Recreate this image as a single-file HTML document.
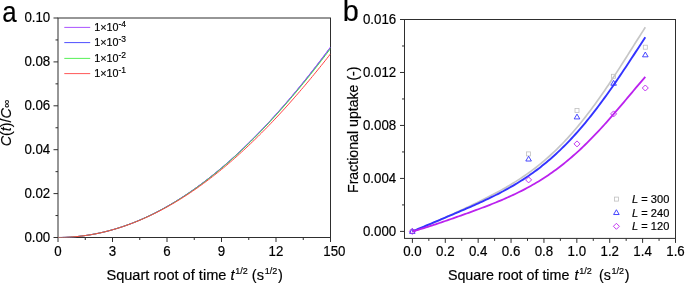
<!DOCTYPE html>
<html><head><meta charset="utf-8"><title>Figure</title>
<style>
html,body{margin:0;padding:0;background:#fff;}
svg{display:block;}
text{font-family:"Liberation Sans", Arial, sans-serif;fill:#000;stroke:#000;stroke-width:0.18px;}
</style></head><body>
<svg width="685" height="284" viewBox="0 0 685 284">
<rect width="685" height="284" fill="#fff"/>
<g stroke="#2e2e2e" stroke-width="1" fill="none">
<rect x="58.0" y="18.0" width="272.5" height="219.5"/>
<line x1="53.5" y1="237.50" x2="58.0" y2="237.50"/>
<line x1="55.5" y1="215.55" x2="58.0" y2="215.55"/>
<line x1="53.5" y1="193.60" x2="58.0" y2="193.60"/>
<line x1="55.5" y1="171.65" x2="58.0" y2="171.65"/>
<line x1="53.5" y1="149.70" x2="58.0" y2="149.70"/>
<line x1="55.5" y1="127.75" x2="58.0" y2="127.75"/>
<line x1="53.5" y1="105.80" x2="58.0" y2="105.80"/>
<line x1="55.5" y1="83.85" x2="58.0" y2="83.85"/>
<line x1="53.5" y1="61.90" x2="58.0" y2="61.90"/>
<line x1="55.5" y1="39.95" x2="58.0" y2="39.95"/>
<line x1="53.5" y1="18.00" x2="58.0" y2="18.00"/>
<line x1="58.00" y1="237.5" x2="58.00" y2="242.0"/>
<line x1="85.25" y1="237.5" x2="85.25" y2="240.0"/>
<line x1="112.50" y1="237.5" x2="112.50" y2="242.0"/>
<line x1="139.75" y1="237.5" x2="139.75" y2="240.0"/>
<line x1="167.00" y1="237.5" x2="167.00" y2="242.0"/>
<line x1="194.25" y1="237.5" x2="194.25" y2="240.0"/>
<line x1="221.50" y1="237.5" x2="221.50" y2="242.0"/>
<line x1="248.75" y1="237.5" x2="248.75" y2="240.0"/>
<line x1="276.00" y1="237.5" x2="276.00" y2="242.0"/>
<line x1="303.25" y1="237.5" x2="303.25" y2="240.0"/>
<line x1="330.50" y1="237.5" x2="330.50" y2="242.0"/>
</g>
<clipPath id="ca"><rect x="58.0" y="18.0" width="272.5" height="219.5"/></clipPath>
<g clip-path="url(#ca)" fill="none" stroke-width="1">
<polyline points="58.00,237.50 59.82,237.49 61.63,237.47 63.45,237.42 65.27,237.36 67.08,237.28 68.90,237.19 70.72,237.08 72.53,236.95 74.35,236.80 76.17,236.64 77.98,236.46 79.80,236.26 81.62,236.04 83.43,235.81 85.25,235.56 87.07,235.29 88.88,235.01 90.70,234.71 92.52,234.39 94.33,234.05 96.15,233.70 97.97,233.33 99.78,232.94 101.60,232.54 103.42,232.12 105.23,231.68 107.05,231.22 108.87,230.75 110.68,230.26 112.50,229.75 114.32,229.22 116.13,228.68 117.95,228.12 119.77,227.55 121.58,226.95 123.40,226.34 125.22,225.71 127.03,225.07 128.85,224.40 130.67,223.72 132.48,223.03 134.30,222.31 136.12,221.58 137.93,220.83 139.75,220.07 141.57,219.28 143.38,218.48 145.20,217.66 147.02,216.83 148.83,215.98 150.65,215.11 152.47,214.22 154.28,213.32 156.10,212.40 157.92,211.46 159.73,210.51 161.55,209.54 163.37,208.55 165.18,207.54 167.00,206.52 168.82,205.48 170.63,204.42 172.45,203.35 174.27,202.26 176.08,201.15 177.90,200.02 179.72,198.88 181.53,197.72 183.35,196.55 185.17,195.35 186.98,194.14 188.80,192.91 190.62,191.67 192.43,190.41 194.25,189.13 196.07,187.84 197.88,186.52 199.70,185.20 201.52,183.85 203.33,182.49 205.15,181.11 206.97,179.71 208.78,178.30 210.60,176.87 212.42,175.42 214.23,173.96 216.05,172.48 217.87,170.98 219.68,169.47 221.50,167.94 223.32,166.39 225.13,164.83 226.95,163.25 228.77,161.66 230.58,160.04 232.40,158.41 234.22,156.77 236.03,155.11 237.85,153.43 239.67,151.74 241.48,150.02 243.30,148.30 245.12,146.55 246.93,144.80 248.75,143.02 250.57,141.23 252.38,139.42 254.20,137.60 256.02,135.76 257.83,133.90 259.65,132.03 261.47,130.14 263.28,128.24 265.10,126.32 266.92,124.39 268.73,122.44 270.55,120.47 272.37,118.49 274.18,116.50 276.00,114.48 277.82,112.46 279.63,110.41 281.45,108.36 283.27,106.28 285.08,104.20 286.90,102.09 288.72,99.98 290.53,97.84 292.35,95.70 294.17,93.54 295.98,91.36 297.80,89.17 299.62,86.96 301.43,84.74 303.25,82.51 305.07,80.26 306.88,78.00 308.70,75.72 310.52,73.43 312.33,71.13 314.15,68.81 315.97,66.48 317.78,64.13 319.60,61.78 321.42,59.40 323.23,57.02 325.05,54.62 326.87,52.21 328.68,49.79 330.50,47.35" stroke="#3a3aff"/>
<polyline points="58.00,237.50 59.82,237.49 61.63,237.47 63.45,237.42 65.27,237.36 67.08,237.28 68.90,237.19 70.72,237.08 72.53,236.95 74.35,236.80 76.17,236.64 77.98,236.46 79.80,236.26 81.62,236.04 83.43,235.81 85.25,235.56 87.07,235.29 88.88,235.01 90.70,234.71 92.52,234.39 94.33,234.05 96.15,233.70 97.97,233.33 99.78,232.94 101.60,232.54 103.42,232.12 105.23,231.68 107.05,231.22 108.87,230.75 110.68,230.25 112.50,229.75 114.32,229.22 116.13,228.68 117.95,228.12 119.77,227.54 121.58,226.95 123.40,226.34 125.22,225.71 127.03,225.06 128.85,224.40 130.67,223.72 132.48,223.02 134.30,222.30 136.12,221.57 137.93,220.82 139.75,220.06 141.57,219.27 143.38,218.47 145.20,217.65 147.02,216.82 148.83,215.97 150.65,215.10 152.47,214.21 154.28,213.31 156.10,212.38 157.92,211.45 159.73,210.49 161.55,209.52 163.37,208.53 165.18,207.52 167.00,206.50 168.82,205.46 170.63,204.40 172.45,203.32 174.27,202.23 176.08,201.12 177.90,200.00 179.72,198.85 181.53,197.69 183.35,196.51 185.17,195.32 186.98,194.11 188.80,192.88 190.62,191.63 192.43,190.37 194.25,189.09 196.07,187.80 197.88,186.48 199.70,185.15 201.52,183.80 203.33,182.44 205.15,181.06 206.97,179.66 208.78,178.25 210.60,176.82 212.42,175.37 214.23,173.90 216.05,172.42 217.87,170.92 219.68,169.41 221.50,167.87 223.32,166.33 225.13,164.76 226.95,163.18 228.77,161.58 230.58,159.97 232.40,158.34 234.22,156.69 236.03,155.02 237.85,153.34 239.67,151.65 241.48,149.93 243.30,148.20 245.12,146.46 246.93,144.70 248.75,142.92 250.57,141.12 252.38,139.31 254.20,137.49 256.02,135.64 257.83,133.78 259.65,131.91 261.47,130.02 263.28,128.11 265.10,126.19 266.92,124.25 268.73,122.30 270.55,120.33 272.37,118.35 274.18,116.35 276.00,114.33 277.82,112.30 279.63,110.26 281.45,108.20 283.27,106.12 285.08,104.03 286.90,101.92 288.72,99.80 290.53,97.66 292.35,95.51 294.17,93.35 295.98,91.17 297.80,88.97 299.62,86.76 301.43,84.54 303.25,82.30 305.07,80.05 306.88,77.78 308.70,75.50 310.52,73.20 312.33,70.89 314.15,68.57 315.97,66.24 317.78,63.89 319.60,61.52 321.42,59.15 323.23,56.76 325.05,54.35 326.87,51.94 328.68,49.51 330.50,47.07" stroke="#a040ff"/>
<polyline points="58.00,237.50 59.82,237.49 61.63,237.47 63.45,237.42 65.27,237.36 67.08,237.28 68.90,237.19 70.72,237.08 72.53,236.95 74.35,236.80 76.17,236.64 77.98,236.46 79.80,236.26 81.62,236.05 83.43,235.81 85.25,235.56 87.07,235.30 88.88,235.01 90.70,234.71 92.52,234.39 94.33,234.06 96.15,233.71 97.97,233.34 99.78,232.95 101.60,232.55 103.42,232.12 105.23,231.69 107.05,231.23 108.87,230.76 110.68,230.27 112.50,229.76 114.32,229.24 116.13,228.70 117.95,228.14 119.77,227.56 121.58,226.97 123.40,226.36 125.22,225.73 127.03,225.09 128.85,224.43 130.67,223.75 132.48,223.06 134.30,222.34 136.12,221.61 137.93,220.87 139.75,220.10 141.57,219.32 143.38,218.53 145.20,217.71 147.02,216.88 148.83,216.03 150.65,215.16 152.47,214.28 154.28,213.38 156.10,212.47 157.92,211.53 159.73,210.58 161.55,209.61 163.37,208.63 165.18,207.63 167.00,206.61 168.82,205.57 170.63,204.52 172.45,203.45 174.27,202.36 176.08,201.26 177.90,200.14 179.72,199.00 181.53,197.85 183.35,196.68 185.17,195.49 186.98,194.29 188.80,193.06 190.62,191.83 192.43,190.57 194.25,189.30 196.07,188.01 197.88,186.71 199.70,185.38 201.52,184.05 203.33,182.69 205.15,181.32 206.97,179.93 208.78,178.52 210.60,177.10 212.42,175.67 214.23,174.21 216.05,172.74 217.87,171.25 219.68,169.75 221.50,168.23 223.32,166.69 225.13,165.14 226.95,163.57 228.77,161.98 230.58,160.38 232.40,158.76 234.22,157.12 236.03,155.47 237.85,153.81 239.67,152.12 241.48,150.42 243.30,148.71 245.12,146.98 246.93,145.23 248.75,143.47 250.57,141.69 252.38,139.89 254.20,138.08 256.02,136.25 257.83,134.41 259.65,132.55 261.47,130.68 263.28,128.79 265.10,126.89 266.92,124.97 268.73,123.03 270.55,121.08 272.37,119.12 274.18,117.14 276.00,115.14 277.82,113.13 279.63,111.10 281.45,109.06 283.27,107.00 285.08,104.93 286.90,102.85 288.72,100.75 290.53,98.63 292.35,96.50 294.17,94.36 295.98,92.20 297.80,90.03 299.62,87.84 301.43,85.64 303.25,83.43 305.07,81.20 306.88,78.96 308.70,76.70 310.52,74.43 312.33,72.15 314.15,69.85 315.97,67.54 317.78,65.22 319.60,62.88 321.42,60.53 323.23,58.17 325.05,55.79 326.87,53.40 328.68,51.00 330.50,48.59" stroke="#44e044"/>
<polyline points="58.00,237.50 59.82,237.49 61.63,237.47 63.45,237.42 65.27,237.36 67.08,237.28 68.90,237.19 70.72,237.08 72.53,236.95 74.35,236.80 76.17,236.64 77.98,236.46 79.80,236.26 81.62,236.05 83.43,235.82 85.25,235.57 87.07,235.31 88.88,235.02 90.70,234.72 92.52,234.41 94.33,234.07 96.15,233.72 97.97,233.36 99.78,232.97 101.60,232.57 103.42,232.15 105.23,231.72 107.05,231.27 108.87,230.80 110.68,230.31 112.50,229.81 114.32,229.29 116.13,228.76 117.95,228.20 119.77,227.64 121.58,227.05 123.40,226.45 125.22,225.83 127.03,225.19 128.85,224.54 130.67,223.87 132.48,223.18 134.30,222.48 136.12,221.76 137.93,221.02 139.75,220.27 141.57,219.50 143.38,218.71 145.20,217.91 147.02,217.09 148.83,216.25 150.65,215.40 152.47,214.53 154.28,213.65 156.10,212.75 157.92,211.83 159.73,210.89 161.55,209.94 163.37,208.97 165.18,207.99 167.00,206.99 168.82,205.97 170.63,204.94 172.45,203.89 174.27,202.82 176.08,201.74 177.90,200.64 179.72,199.53 181.53,198.40 183.35,197.25 185.17,196.08 186.98,194.91 188.80,193.71 190.62,192.50 192.43,191.27 194.25,190.03 196.07,188.77 197.88,187.49 199.70,186.20 201.52,184.89 203.33,183.57 205.15,182.23 206.97,180.87 208.78,179.50 210.60,178.11 212.42,176.71 214.23,175.29 216.05,173.86 217.87,172.40 219.68,170.94 221.50,169.46 223.32,167.96 225.13,166.45 226.95,164.92 228.77,163.38 230.58,161.82 232.40,160.24 234.22,158.65 236.03,157.05 237.85,155.43 239.67,153.79 241.48,152.14 243.30,150.47 245.12,148.79 246.93,147.10 248.75,145.39 250.57,143.66 252.38,141.92 254.20,140.16 256.02,138.39 257.83,136.61 259.65,134.81 261.47,132.99 263.28,131.17 265.10,129.32 266.92,127.46 268.73,125.59 270.55,123.71 272.37,121.80 274.18,119.89 276.00,117.96 277.82,116.02 279.63,114.06 281.45,112.09 283.27,110.10 285.08,108.11 286.90,106.09 288.72,104.07 290.53,102.03 292.35,99.97 294.17,97.91 295.98,95.83 297.80,93.74 299.62,91.63 301.43,89.51 303.25,87.38 305.07,85.24 306.88,83.08 308.70,80.91 310.52,78.73 312.33,76.53 314.15,74.32 315.97,72.10 317.78,69.87 319.60,67.63 321.42,65.37 323.23,63.11 325.05,60.83 326.87,58.54 328.68,56.23 330.50,53.92" stroke="#ff4444"/>
</g>
<text transform="translate(50.25,241.60) scale(1,1.08)" font-size="13.3px" text-anchor="end">0.00</text>
<text transform="translate(50.25,197.70) scale(1,1.08)" font-size="13.3px" text-anchor="end">0.02</text>
<text transform="translate(50.25,153.80) scale(1,1.08)" font-size="13.3px" text-anchor="end">0.04</text>
<text transform="translate(50.25,109.90) scale(1,1.08)" font-size="13.3px" text-anchor="end">0.06</text>
<text transform="translate(50.25,66.00) scale(1,1.08)" font-size="13.3px" text-anchor="end">0.08</text>
<text transform="translate(50.25,22.10) scale(1,1.08)" font-size="13.3px" text-anchor="end">0.10</text>
<text transform="translate(58.00,255.50) scale(1,1.08)" font-size="13.3px" text-anchor="middle">0</text>
<text transform="translate(112.50,255.50) scale(1,1.08)" font-size="13.3px" text-anchor="middle">3</text>
<text transform="translate(167.00,255.50) scale(1,1.08)" font-size="13.3px" text-anchor="middle">6</text>
<text transform="translate(221.50,255.50) scale(1,1.08)" font-size="13.3px" text-anchor="middle">9</text>
<text transform="translate(276.00,255.50) scale(1,1.08)" font-size="13.3px" text-anchor="middle">12</text>
<text transform="translate(323.30,255.50) scale(1,1.08)" font-size="13.3px" text-anchor="start">150</text>
<line x1="64.3" y1="27.40" x2="90.2" y2="27.40" stroke="#a040ff" stroke-width="0.9"/>
<text transform="translate(94.20,31.25) scale(1,1.08)" font-size="10.8px" text-anchor="start">1×10<tspan font-size="8.5px" dy="-4.2">-4</tspan></text>
<line x1="64.3" y1="42.60" x2="90.2" y2="42.60" stroke="#3a3aff" stroke-width="0.9"/>
<text transform="translate(94.20,46.45) scale(1,1.08)" font-size="10.8px" text-anchor="start">1×10<tspan font-size="8.5px" dy="-4.2">-3</tspan></text>
<line x1="64.3" y1="58.40" x2="90.2" y2="58.40" stroke="#44ee44" stroke-width="0.9"/>
<text transform="translate(94.20,62.25) scale(1,1.08)" font-size="10.8px" text-anchor="start">1×10<tspan font-size="8.5px" dy="-4.2">-2</tspan></text>
<line x1="64.3" y1="73.60" x2="90.2" y2="73.60" stroke="#ff4444" stroke-width="0.9"/>
<text transform="translate(94.20,77.45) scale(1,1.08)" font-size="10.8px" text-anchor="start">1×10<tspan font-size="8.5px" dy="-4.2">-1</tspan></text>
<text transform="translate(2.30,22.00) scale(0.94,1.065)" font-size="27.5px" text-anchor="start" stroke="#000" stroke-width="0.3">a</text>
<g transform="translate(11.2,146.3) rotate(-90)"><text font-size="14.3px"><tspan font-style="italic">C</tspan>(<tspan font-style="italic">t</tspan>)/<tspan font-style="italic">C</tspan></text><text transform="translate(38.5,-1.6) scale(1,0.92)" font-size="11.8px" stroke="#000" stroke-width="0.35">∞</text></g>
<text transform="translate(106.40,279.70) scale(1,1.06)" font-size="14.6px" text-anchor="start">Squart root of time <tspan font-style="italic">t</tspan><tspan font-size="9px" dy="-5.5" dx="0.8">1/2</tspan><tspan dy="5.5"> (s</tspan><tspan font-size="9px" dy="-5.5" dx="0.8">1/2</tspan><tspan dy="5.5" dx="0.7">)</tspan></text>
<rect x="410.30" y="229.40" width="4.0" height="4.0" fill="none" stroke="#c0c0c0" stroke-width="0.8"/>
<rect x="526.60" y="151.90" width="4.0" height="4.0" fill="none" stroke="#c0c0c0" stroke-width="0.8"/>
<rect x="575.00" y="108.40" width="4.0" height="4.0" fill="none" stroke="#c0c0c0" stroke-width="0.8"/>
<rect x="611.60" y="74.30" width="4.0" height="4.0" fill="none" stroke="#c0c0c0" stroke-width="0.8"/>
<rect x="643.30" y="45.20" width="4.0" height="4.0" fill="none" stroke="#c0c0c0" stroke-width="0.8"/>
<polyline points="412.30,231.40 414.24,230.70 416.18,229.97 418.12,229.23 420.07,228.46 422.01,227.68 423.95,226.89 425.89,226.08 427.83,225.26 429.78,224.43 431.72,223.59 433.66,222.74 435.60,221.89 437.54,221.02 439.48,220.15 441.43,219.28 443.37,218.40 445.31,217.51 447.25,216.63 449.19,215.73 451.13,214.84 453.07,213.94 455.02,213.04 456.96,212.14 458.90,211.23 460.84,210.32 462.78,209.41 464.73,208.49 466.67,207.57 468.61,206.65 470.55,205.72 472.49,204.79 474.43,203.85 476.38,202.91 478.32,201.96 480.26,201.01 482.20,200.05 484.14,199.08 486.08,198.10 488.03,197.11 489.97,196.12 491.91,195.11 493.85,194.09 495.79,193.06 497.73,192.01 499.68,190.96 501.62,189.88 503.56,188.79 505.50,187.69 507.44,186.57 509.38,185.42 511.32,184.26 513.27,183.08 515.21,181.88 517.15,180.65 519.09,179.40 521.03,178.13 522.98,176.83 524.92,175.51 526.86,174.15 528.80,172.77 530.74,171.37 532.68,169.93 534.62,168.46 536.57,166.96 538.51,165.42 540.45,163.86 542.39,162.25 544.33,160.62 546.27,158.95 548.22,157.24 550.16,155.50 552.10,153.72 554.04,151.90 555.98,150.04 557.92,148.14 559.87,146.21 561.81,144.23 563.75,142.22 565.69,140.16 567.63,138.06 569.58,135.93 571.52,133.75 573.46,131.53 575.40,129.27 577.34,126.97 579.28,124.62 581.23,122.24 583.17,119.82 585.11,117.36 587.05,114.85 588.99,112.31 590.93,109.73 592.88,107.11 594.82,104.46 596.76,101.77 598.70,99.05 600.64,96.29 602.58,93.49 604.52,90.67 606.47,87.82 608.41,84.93 610.35,82.02 612.29,79.08 614.23,76.12 616.17,73.14 618.12,70.14 620.06,67.12 622.00,64.08 623.94,61.03 625.88,57.96 627.83,54.89 629.77,51.81 631.71,48.73 633.65,45.65 635.59,42.57 637.53,39.50 639.48,36.43 641.42,33.38 643.36,30.35 645.30,27.33" fill="none" stroke="#c6c6c6" stroke-width="1.7"/>
<path d="M412.30,228.52 L415.10,233.32 L409.50,233.32 Z" fill="none" stroke="#3333ff" stroke-width="0.9" stroke-linejoin="miter"/>
<path d="M528.60,156.22 L531.40,161.02 L525.80,161.02 Z" fill="none" stroke="#3333ff" stroke-width="0.9" stroke-linejoin="miter"/>
<path d="M577.00,114.12 L579.80,118.92 L574.20,118.92 Z" fill="none" stroke="#3333ff" stroke-width="0.9" stroke-linejoin="miter"/>
<path d="M613.60,80.42 L616.40,85.22 L610.80,85.22 Z" fill="none" stroke="#3333ff" stroke-width="0.9" stroke-linejoin="miter"/>
<path d="M645.30,52.02 L648.10,56.82 L642.50,56.82 Z" fill="none" stroke="#3333ff" stroke-width="0.9" stroke-linejoin="miter"/>
<polyline points="412.30,231.40 414.24,230.60 416.18,229.80 418.12,229.00 420.07,228.19 422.01,227.38 423.95,226.57 425.89,225.75 427.83,224.94 429.78,224.12 431.72,223.30 433.66,222.48 435.60,221.66 437.54,220.84 439.48,220.02 441.43,219.20 443.37,218.38 445.31,217.56 447.25,216.74 449.19,215.91 451.13,215.09 453.07,214.27 455.02,213.44 456.96,212.62 458.90,211.79 460.84,210.96 462.78,210.13 464.73,209.29 466.67,208.45 468.61,207.61 470.55,206.76 472.49,205.90 474.43,205.04 476.38,204.18 478.32,203.31 480.26,202.42 482.20,201.54 484.14,200.64 486.08,199.73 488.03,198.81 489.97,197.88 491.91,196.94 493.85,195.98 495.79,195.02 497.73,194.03 499.68,193.03 501.62,192.02 503.56,190.99 505.50,189.94 507.44,188.87 509.38,187.79 511.32,186.68 513.27,185.56 515.21,184.41 517.15,183.24 519.09,182.04 521.03,180.82 522.98,179.58 524.92,178.31 526.86,177.02 528.80,175.69 530.74,174.34 532.68,172.96 534.62,171.56 536.57,170.12 538.51,168.65 540.45,167.15 542.39,165.62 544.33,164.05 546.27,162.46 548.22,160.83 550.16,159.16 552.10,157.46 554.04,155.73 555.98,153.96 557.92,152.16 559.87,150.32 561.81,148.44 563.75,146.52 565.69,144.57 567.63,142.59 569.58,140.56 571.52,138.50 573.46,136.40 575.40,134.26 577.34,132.09 579.28,129.88 581.23,127.63 583.17,125.34 585.11,123.02 587.05,120.66 588.99,118.27 590.93,115.84 592.88,113.38 594.82,110.88 596.76,108.35 598.70,105.78 600.64,103.18 602.58,100.55 604.52,97.89 606.47,95.20 608.41,92.48 610.35,89.74 612.29,86.96 614.23,84.16 616.17,81.34 618.12,78.50 620.06,75.63 622.00,72.74 623.94,69.84 625.88,66.92 627.83,63.98 629.77,61.03 631.71,58.08 633.65,55.11 635.59,52.14 637.53,49.16 639.48,46.18 641.42,43.20 643.36,40.22 645.30,37.25" fill="none" stroke="#3333ff" stroke-width="1.9"/>
<path d="M412.30,228.40 L415.30,231.40 L412.30,234.40 L409.30,231.40 Z" fill="none" stroke="#bb22ee" stroke-width="0.9"/>
<path d="M528.60,176.90 L531.60,179.90 L528.60,182.90 L525.60,179.90 Z" fill="none" stroke="#bb22ee" stroke-width="0.9"/>
<path d="M577.00,140.90 L580.00,143.90 L577.00,146.90 L574.00,143.90 Z" fill="none" stroke="#bb22ee" stroke-width="0.9"/>
<path d="M613.60,110.90 L616.60,113.90 L613.60,116.90 L610.60,113.90 Z" fill="none" stroke="#bb22ee" stroke-width="0.9"/>
<path d="M645.30,85.00 L648.30,88.00 L645.30,91.00 L642.30,88.00 Z" fill="none" stroke="#bb22ee" stroke-width="0.9"/>
<polyline points="412.30,231.40 414.24,230.88 416.18,230.35 418.12,229.80 420.07,229.23 422.01,228.65 423.95,228.06 425.89,227.46 427.83,226.85 429.78,226.23 431.72,225.60 433.66,224.96 435.60,224.32 437.54,223.67 439.48,223.01 441.43,222.35 443.37,221.69 445.31,221.02 447.25,220.35 449.19,219.68 451.13,219.00 453.07,218.32 455.02,217.64 456.96,216.96 458.90,216.27 460.84,215.58 462.78,214.89 464.73,214.19 466.67,213.49 468.61,212.79 470.55,212.09 472.49,211.38 474.43,210.67 476.38,209.95 478.32,209.23 480.26,208.51 482.20,207.78 484.14,207.04 486.08,206.30 488.03,205.55 489.97,204.79 491.91,204.02 493.85,203.25 495.79,202.46 497.73,201.67 499.68,200.86 501.62,200.05 503.56,199.22 505.50,198.38 507.44,197.52 509.38,196.65 511.32,195.77 513.27,194.87 515.21,193.95 517.15,193.02 519.09,192.06 521.03,191.09 522.98,190.10 524.92,189.09 526.86,188.06 528.80,187.01 530.74,185.94 532.68,184.84 534.62,183.72 536.57,182.57 538.51,181.40 540.45,180.21 542.39,178.99 544.33,177.74 546.27,176.47 548.22,175.16 550.16,173.83 552.10,172.47 554.04,171.09 555.98,169.67 557.92,168.22 559.87,166.75 561.81,165.24 563.75,163.70 565.69,162.13 567.63,160.54 569.58,158.91 571.52,157.25 573.46,155.55 575.40,153.83 577.34,152.08 579.28,150.29 581.23,148.48 583.17,146.63 585.11,144.76 587.05,142.85 588.99,140.92 590.93,138.96 592.88,136.97 594.82,134.95 596.76,132.91 598.70,130.84 600.64,128.74 602.58,126.62 604.52,124.48 606.47,122.32 608.41,120.13 610.35,117.93 612.29,115.70 614.23,113.46 616.17,111.21 618.12,108.94 620.06,106.66 622.00,104.36 623.94,102.06 625.88,99.76 627.83,97.44 629.77,95.13 631.71,92.81 633.65,90.50 635.59,88.20 637.53,85.89 639.48,83.60 641.42,81.33 643.36,79.06 645.30,76.82" fill="none" stroke="#bb22ee" stroke-width="1.8"/>
<g stroke="#2e2e2e" stroke-width="1" fill="none">
<rect x="404.5" y="19.5" width="271.0" height="218.9"/>
<line x1="400.0" y1="231.40" x2="404.5" y2="231.40"/>
<line x1="402.0" y1="204.91" x2="404.5" y2="204.91"/>
<line x1="400.0" y1="178.43" x2="404.5" y2="178.43"/>
<line x1="402.0" y1="151.94" x2="404.5" y2="151.94"/>
<line x1="400.0" y1="125.45" x2="404.5" y2="125.45"/>
<line x1="402.0" y1="98.96" x2="404.5" y2="98.96"/>
<line x1="400.0" y1="72.47" x2="404.5" y2="72.47"/>
<line x1="402.0" y1="45.99" x2="404.5" y2="45.99"/>
<line x1="400.0" y1="19.50" x2="404.5" y2="19.50"/>
<line x1="412.40" y1="238.4" x2="412.40" y2="242.9"/>
<line x1="428.84" y1="238.4" x2="428.84" y2="240.9"/>
<line x1="445.29" y1="238.4" x2="445.29" y2="242.9"/>
<line x1="461.73" y1="238.4" x2="461.73" y2="240.9"/>
<line x1="478.17" y1="238.4" x2="478.17" y2="242.9"/>
<line x1="494.62" y1="238.4" x2="494.62" y2="240.9"/>
<line x1="511.06" y1="238.4" x2="511.06" y2="242.9"/>
<line x1="527.51" y1="238.4" x2="527.51" y2="240.9"/>
<line x1="543.95" y1="238.4" x2="543.95" y2="242.9"/>
<line x1="560.39" y1="238.4" x2="560.39" y2="240.9"/>
<line x1="576.84" y1="238.4" x2="576.84" y2="242.9"/>
<line x1="593.28" y1="238.4" x2="593.28" y2="240.9"/>
<line x1="609.73" y1="238.4" x2="609.73" y2="242.9"/>
<line x1="626.17" y1="238.4" x2="626.17" y2="240.9"/>
<line x1="642.61" y1="238.4" x2="642.61" y2="242.9"/>
<line x1="659.06" y1="238.4" x2="659.06" y2="240.9"/>
<line x1="675.50" y1="238.4" x2="675.50" y2="242.9"/>
</g>
<text transform="translate(396.20,235.90) scale(1,1.075)" font-size="13.3px" text-anchor="end">0.000</text>
<text transform="translate(396.20,182.93) scale(1,1.075)" font-size="13.3px" text-anchor="end">0.004</text>
<text transform="translate(396.20,129.95) scale(1,1.075)" font-size="13.3px" text-anchor="end">0.008</text>
<text transform="translate(396.20,76.97) scale(1,1.075)" font-size="13.3px" text-anchor="end">0.012</text>
<text transform="translate(396.20,24.00) scale(1,1.075)" font-size="13.3px" text-anchor="end">0.016</text>
<text transform="translate(412.40,255.60) scale(1,1.075)" font-size="13.3px" text-anchor="middle">0.0</text>
<text transform="translate(445.29,255.60) scale(1,1.075)" font-size="13.3px" text-anchor="middle">0.2</text>
<text transform="translate(478.17,255.60) scale(1,1.075)" font-size="13.3px" text-anchor="middle">0.4</text>
<text transform="translate(511.06,255.60) scale(1,1.075)" font-size="13.3px" text-anchor="middle">0.6</text>
<text transform="translate(543.95,255.60) scale(1,1.075)" font-size="13.3px" text-anchor="middle">0.8</text>
<text transform="translate(576.84,255.60) scale(1,1.075)" font-size="13.3px" text-anchor="middle">1.0</text>
<text transform="translate(609.73,255.60) scale(1,1.075)" font-size="13.3px" text-anchor="middle">1.2</text>
<text transform="translate(642.61,255.60) scale(1,1.075)" font-size="13.3px" text-anchor="middle">1.4</text>
<text transform="translate(675.50,255.60) scale(1,1.075)" font-size="13.3px" text-anchor="middle">1.6</text>
<rect x="614.40" y="197.10" width="4.0" height="4.0" fill="none" stroke="#c0c0c0" stroke-width="0.8"/>
<path d="M616.40,209.72 L619.20,214.52 L613.60,214.52 Z" fill="none" stroke="#3333ff" stroke-width="0.9" stroke-linejoin="miter"/>
<path d="M616.40,223.30 L619.40,226.30 L616.40,229.30 L613.40,226.30 Z" fill="none" stroke="#bb22ee" stroke-width="0.9"/>
<text transform="translate(632.10,202.75) scale(1,1.0)" font-size="11.05px" text-anchor="start"><tspan font-style="italic">L</tspan> = 300</text>
<text transform="translate(632.10,216.60) scale(1,1.0)" font-size="11.05px" text-anchor="start"><tspan font-style="italic">L</tspan> = 240</text>
<text transform="translate(632.10,230.45) scale(1,1.0)" font-size="11.05px" text-anchor="start"><tspan font-style="italic">L</tspan> = 120</text>
<text transform="translate(342.80,21.40) scale(1,1.0)" font-size="28.8px" text-anchor="start" stroke="#000" stroke-width="0.3">b</text>
<text transform="translate(357.6,193.0) rotate(-90)" font-size="14.15px">Fractional uptake (-)</text>
<text transform="translate(447.90,279.80) scale(1,1.06)" font-size="14.3px" text-anchor="start">Square root of time <tspan font-style="italic" dx="1.1">t</tspan><tspan font-size="9px" dy="-5.5" dx="0.8">1/2</tspan><tspan dy="5.5" dx="3.2"> (s</tspan><tspan font-size="9px" dy="-5.5" dx="0.8">1/2</tspan><tspan dy="5.5" dx="0.7">)</tspan></text>
</svg></body></html>
